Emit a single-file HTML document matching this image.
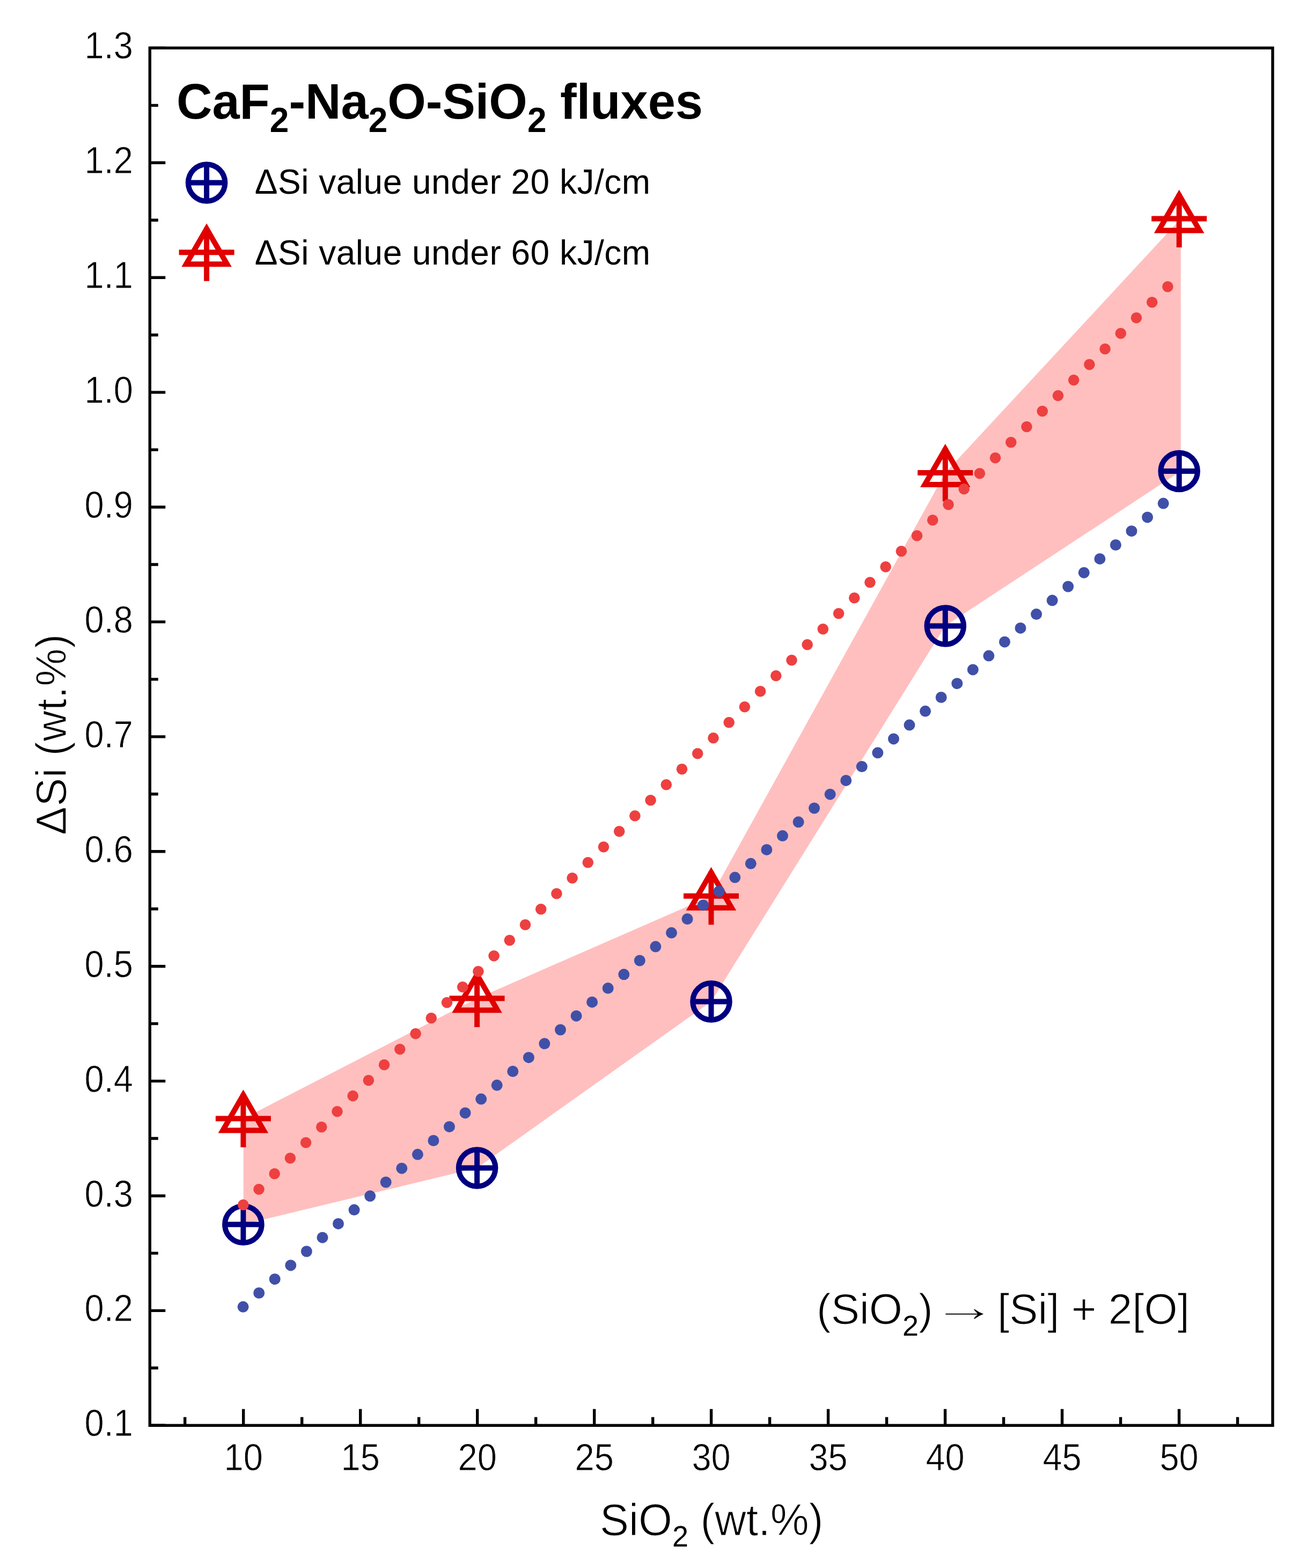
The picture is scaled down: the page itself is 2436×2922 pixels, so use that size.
<!DOCTYPE html>
<html><head><meta charset="utf-8"><title>CaF2-Na2O-SiO2 fluxes</title>
<style>html,body{margin:0;padding:0;background:#fff;width:2436px;height:2922px;overflow:hidden;}svg{display:block;}text{font-family:"Liberation Sans", Arial, sans-serif;fill:#000;}text.r{stroke:#fff;stroke-width:1.2px;}text.t{stroke:#fff;stroke-width:0.8px;}</style></head><body>
<svg width="2436" height="2922" viewBox="0 0 2436 2922">
<rect x="0" y="0" width="2436" height="2922" fill="#fff"/>
<polygon fill="#ffbfbf" points="453.7,2084.4 889.1,1860.5 1325.5,1669.8 1761.8,881.0 2200.8,407.6 2200.8,878.0 1761.8,1166.5 1325.5,1866.4 889.1,2176.5 453.7,2281.7"/>
<g stroke="#e00000" stroke-width="10" fill="none"><polygon stroke-linejoin="miter" stroke-miterlimit="10" points="453.4,2040.4 415.3,2106.4 491.5,2106.4"/><line x1="401.9" y1="2084.4" x2="504.9" y2="2084.4"/><line x1="453.4" y1="2038.4" x2="453.4" y2="2137.9"/></g>
<g stroke="#e00000" stroke-width="10" fill="none"><polygon stroke-linejoin="miter" stroke-miterlimit="10" points="889.1,1816.5 851.0,1882.5 927.2,1882.5"/><line x1="837.6" y1="1860.5" x2="940.6" y2="1860.5"/><line x1="889.1" y1="1814.5" x2="889.1" y2="1914.0"/></g>
<g stroke="#e00000" stroke-width="10" fill="none"><polygon stroke-linejoin="miter" stroke-miterlimit="10" points="1325.5,1625.8 1287.4,1691.8 1363.6,1691.8"/><line x1="1274.0" y1="1669.8" x2="1377.0" y2="1669.8"/><line x1="1325.5" y1="1623.8" x2="1325.5" y2="1723.3"/></g>
<g stroke="#e00000" stroke-width="10" fill="none"><polygon stroke-linejoin="miter" stroke-miterlimit="10" points="1761.8,837.0 1723.7,903.0 1799.9,903.0"/><line x1="1710.3" y1="881.0" x2="1813.3" y2="881.0"/><line x1="1761.8" y1="835.0" x2="1761.8" y2="934.5"/></g>
<g stroke="#e00000" stroke-width="10" fill="none"><polygon stroke-linejoin="miter" stroke-miterlimit="10" points="2197.7,363.6 2159.6,429.6 2235.8,429.6"/><line x1="2146.2" y1="407.6" x2="2249.2" y2="407.6"/><line x1="2197.7" y1="361.6" x2="2197.7" y2="461.1"/></g>
<g stroke="#000080" stroke-width="10" fill="none"><circle cx="453.4" cy="2281.7" r="34.3"/><line x1="419.1" y1="2281.7" x2="487.7" y2="2281.7"/><line x1="453.4" y1="2247.4" x2="453.4" y2="2316.0"/></g>
<g stroke="#000080" stroke-width="10" fill="none"><circle cx="889.1" cy="2176.5" r="34.3"/><line x1="854.8" y1="2176.5" x2="923.4" y2="2176.5"/><line x1="889.1" y1="2142.2" x2="889.1" y2="2210.8"/></g>
<g stroke="#000080" stroke-width="10" fill="none"><circle cx="1325.5" cy="1866.4" r="34.3"/><line x1="1291.2" y1="1866.4" x2="1359.8" y2="1866.4"/><line x1="1325.5" y1="1832.1" x2="1325.5" y2="1900.7"/></g>
<g stroke="#000080" stroke-width="10" fill="none"><circle cx="1761.8" cy="1166.5" r="34.3"/><line x1="1727.5" y1="1166.5" x2="1796.1" y2="1166.5"/><line x1="1761.8" y1="1132.2" x2="1761.8" y2="1200.8"/></g>
<g stroke="#000080" stroke-width="10" fill="none"><circle cx="2197.7" cy="878.0" r="34.3"/><line x1="2163.4" y1="878.0" x2="2232.0" y2="878.0"/><line x1="2197.7" y1="843.7" x2="2197.7" y2="912.3"/></g>
<g fill="#ee4040"><circle cx="453.3" cy="2245.3" r="10.3"/><circle cx="482.5" cy="2216.3" r="10.3"/><circle cx="511.7" cy="2187.3" r="10.3"/><circle cx="540.9" cy="2158.3" r="10.3"/><circle cx="570.1" cy="2129.3" r="10.3"/><circle cx="599.3" cy="2100.3" r="10.3"/><circle cx="628.5" cy="2071.3" r="10.3"/><circle cx="657.7" cy="2042.3" r="10.3"/><circle cx="686.9" cy="2013.3" r="10.3"/><circle cx="716.1" cy="1984.3" r="10.3"/><circle cx="745.3" cy="1955.3" r="10.3"/><circle cx="774.6" cy="1926.3" r="10.3"/><circle cx="803.8" cy="1897.3" r="10.3"/><circle cx="833.0" cy="1868.3" r="10.3"/><circle cx="862.2" cy="1839.3" r="10.3"/><circle cx="891.4" cy="1810.3" r="10.3"/><circle cx="920.6" cy="1781.3" r="10.3"/><circle cx="949.8" cy="1752.3" r="10.3"/><circle cx="979.0" cy="1723.3" r="10.3"/><circle cx="1008.2" cy="1694.3" r="10.3"/><circle cx="1037.4" cy="1665.3" r="10.3"/><circle cx="1066.6" cy="1636.3" r="10.3"/><circle cx="1095.8" cy="1607.3" r="10.3"/><circle cx="1125.0" cy="1578.3" r="10.3"/><circle cx="1154.2" cy="1549.3" r="10.3"/><circle cx="1183.4" cy="1520.3" r="10.3"/><circle cx="1212.6" cy="1491.3" r="10.3"/><circle cx="1241.8" cy="1462.3" r="10.3"/><circle cx="1271.0" cy="1433.3" r="10.3"/><circle cx="1300.2" cy="1404.3" r="10.3"/><circle cx="1329.5" cy="1375.3" r="10.3"/><circle cx="1358.7" cy="1346.3" r="10.3"/><circle cx="1387.9" cy="1317.2" r="10.3"/><circle cx="1417.1" cy="1288.2" r="10.3"/><circle cx="1446.3" cy="1259.2" r="10.3"/><circle cx="1475.5" cy="1230.2" r="10.3"/><circle cx="1504.7" cy="1201.2" r="10.3"/><circle cx="1533.9" cy="1172.2" r="10.3"/><circle cx="1563.1" cy="1143.2" r="10.3"/><circle cx="1592.3" cy="1114.2" r="10.3"/><circle cx="1621.5" cy="1085.2" r="10.3"/><circle cx="1650.7" cy="1056.2" r="10.3"/><circle cx="1679.9" cy="1027.2" r="10.3"/><circle cx="1709.1" cy="998.2" r="10.3"/><circle cx="1738.3" cy="969.2" r="10.3"/><circle cx="1767.5" cy="940.2" r="10.3"/><circle cx="1796.7" cy="911.2" r="10.3"/><circle cx="1825.9" cy="882.2" r="10.3"/><circle cx="1855.1" cy="853.2" r="10.3"/><circle cx="1884.3" cy="824.2" r="10.3"/><circle cx="1913.5" cy="795.2" r="10.3"/><circle cx="1942.8" cy="766.2" r="10.3"/><circle cx="1972.0" cy="737.2" r="10.3"/><circle cx="2001.2" cy="708.2" r="10.3"/><circle cx="2030.4" cy="679.2" r="10.3"/><circle cx="2059.6" cy="650.2" r="10.3"/><circle cx="2088.8" cy="621.2" r="10.3"/><circle cx="2118.0" cy="592.2" r="10.3"/><circle cx="2147.2" cy="563.2" r="10.3"/><circle cx="2176.4" cy="534.2" r="10.3"/></g>
<g fill="#4050a8"><circle cx="453.1" cy="2435.3" r="10.5"/><circle cx="482.7" cy="2409.5" r="10.5"/><circle cx="512.2" cy="2383.7" r="10.5"/><circle cx="541.8" cy="2357.9" r="10.5"/><circle cx="571.4" cy="2332.0" r="10.5"/><circle cx="601.0" cy="2306.2" r="10.5"/><circle cx="630.5" cy="2280.4" r="10.5"/><circle cx="660.1" cy="2254.6" r="10.5"/><circle cx="689.7" cy="2228.8" r="10.5"/><circle cx="719.2" cy="2203.0" r="10.5"/><circle cx="748.8" cy="2177.2" r="10.5"/><circle cx="778.4" cy="2151.3" r="10.5"/><circle cx="807.9" cy="2125.5" r="10.5"/><circle cx="837.5" cy="2099.7" r="10.5"/><circle cx="867.1" cy="2073.9" r="10.5"/><circle cx="896.7" cy="2048.1" r="10.5"/><circle cx="926.2" cy="2022.3" r="10.5"/><circle cx="955.8" cy="1996.5" r="10.5"/><circle cx="985.4" cy="1970.7" r="10.5"/><circle cx="1014.9" cy="1944.8" r="10.5"/><circle cx="1044.5" cy="1919.0" r="10.5"/><circle cx="1074.1" cy="1893.2" r="10.5"/><circle cx="1103.6" cy="1867.4" r="10.5"/><circle cx="1133.2" cy="1841.6" r="10.5"/><circle cx="1162.8" cy="1815.8" r="10.5"/><circle cx="1192.3" cy="1790.0" r="10.5"/><circle cx="1221.9" cy="1764.1" r="10.5"/><circle cx="1251.5" cy="1738.3" r="10.5"/><circle cx="1281.1" cy="1712.5" r="10.5"/><circle cx="1310.6" cy="1686.7" r="10.5"/><circle cx="1340.2" cy="1660.9" r="10.5"/><circle cx="1369.8" cy="1635.1" r="10.5"/><circle cx="1399.3" cy="1609.3" r="10.5"/><circle cx="1428.9" cy="1583.4" r="10.5"/><circle cx="1458.5" cy="1557.6" r="10.5"/><circle cx="1488.1" cy="1531.8" r="10.5"/><circle cx="1517.6" cy="1506.0" r="10.5"/><circle cx="1547.2" cy="1480.2" r="10.5"/><circle cx="1576.8" cy="1454.4" r="10.5"/><circle cx="1606.3" cy="1428.6" r="10.5"/><circle cx="1635.9" cy="1402.8" r="10.5"/><circle cx="1665.5" cy="1376.9" r="10.5"/><circle cx="1695.0" cy="1351.1" r="10.5"/><circle cx="1724.6" cy="1325.3" r="10.5"/><circle cx="1754.2" cy="1299.5" r="10.5"/><circle cx="1783.8" cy="1273.7" r="10.5"/><circle cx="1813.3" cy="1247.9" r="10.5"/><circle cx="1842.9" cy="1222.1" r="10.5"/><circle cx="1872.5" cy="1196.2" r="10.5"/><circle cx="1902.0" cy="1170.4" r="10.5"/><circle cx="1931.6" cy="1144.6" r="10.5"/><circle cx="1961.2" cy="1118.8" r="10.5"/><circle cx="1990.7" cy="1093.0" r="10.5"/><circle cx="2020.3" cy="1067.2" r="10.5"/><circle cx="2049.9" cy="1041.4" r="10.5"/><circle cx="2079.4" cy="1015.5" r="10.5"/><circle cx="2109.0" cy="989.7" r="10.5"/><circle cx="2138.6" cy="963.9" r="10.5"/><circle cx="2168.2" cy="938.1" r="10.5"/></g>
<rect x="279.3" y="89.4" width="2092.7" height="2566.9" fill="none" stroke="#000" stroke-width="5.4"/>
<path d="M279.3,2656.3H308.3M279.3,2442.4H308.3M279.3,2228.5H308.3M279.3,2014.6H308.3M279.3,1800.7H308.3M279.3,1586.8H308.3M279.3,1372.9H308.3M279.3,1158.9H308.3M279.3,945.0H308.3M279.3,731.1H308.3M279.3,517.2H308.3M279.3,303.3H308.3M279.3,89.4H308.3M279.3,2549.3H294.8M279.3,2335.4H294.8M279.3,2121.5H294.8M279.3,1907.6H294.8M279.3,1693.7H294.8M279.3,1479.8H294.8M279.3,1265.9H294.8M279.3,1052.0H294.8M279.3,838.1H294.8M279.3,624.2H294.8M279.3,410.3H294.8M279.3,196.4H294.8M453.7,2656.3V2625.8M671.7,2656.3V2625.8M889.7,2656.3V2625.8M1107.7,2656.3V2625.8M1325.6,2656.3V2625.8M1543.6,2656.3V2625.8M1761.6,2656.3V2625.8M1979.6,2656.3V2625.8M2197.6,2656.3V2625.8M344.7,2656.3V2640.8M562.7,2656.3V2640.8M780.7,2656.3V2640.8M998.7,2656.3V2640.8M1216.7,2656.3V2640.8M1434.6,2656.3V2640.8M1652.6,2656.3V2640.8M1870.6,2656.3V2640.8M2088.6,2656.3V2640.8M2306.6,2656.3V2640.8" stroke="#000" stroke-width="5.4" fill="none"/>
<text class="t" transform="translate(248,2676.3) scale(0.93,1)" font-size="70" text-anchor="end">0.1</text>
<text class="t" transform="translate(248,2462.4) scale(0.93,1)" font-size="70" text-anchor="end">0.2</text>
<text class="t" transform="translate(248,2248.5) scale(0.93,1)" font-size="70" text-anchor="end">0.3</text>
<text class="t" transform="translate(248,2034.6) scale(0.93,1)" font-size="70" text-anchor="end">0.4</text>
<text class="t" transform="translate(248,1820.7) scale(0.93,1)" font-size="70" text-anchor="end">0.5</text>
<text class="t" transform="translate(248,1606.8) scale(0.93,1)" font-size="70" text-anchor="end">0.6</text>
<text class="t" transform="translate(248,1392.9) scale(0.93,1)" font-size="70" text-anchor="end">0.7</text>
<text class="t" transform="translate(248,1178.9) scale(0.93,1)" font-size="70" text-anchor="end">0.8</text>
<text class="t" transform="translate(248,965.0) scale(0.93,1)" font-size="70" text-anchor="end">0.9</text>
<text class="t" transform="translate(248,751.1) scale(0.93,1)" font-size="70" text-anchor="end">1.0</text>
<text class="t" transform="translate(248,537.2) scale(0.93,1)" font-size="70" text-anchor="end">1.1</text>
<text class="t" transform="translate(248,323.3) scale(0.93,1)" font-size="70" text-anchor="end">1.2</text>
<text class="t" transform="translate(248,109.4) scale(0.93,1)" font-size="70" text-anchor="end">1.3</text>
<text class="t" transform="translate(453.7,2740) scale(0.93,1)" font-size="70" text-anchor="middle">10</text>
<text class="t" transform="translate(671.7,2740) scale(0.93,1)" font-size="70" text-anchor="middle">15</text>
<text class="t" transform="translate(889.7,2740) scale(0.93,1)" font-size="70" text-anchor="middle">20</text>
<text class="t" transform="translate(1107.7,2740) scale(0.93,1)" font-size="70" text-anchor="middle">25</text>
<text class="t" transform="translate(1325.6,2740) scale(0.93,1)" font-size="70" text-anchor="middle">30</text>
<text class="t" transform="translate(1543.6,2740) scale(0.93,1)" font-size="70" text-anchor="middle">35</text>
<text class="t" transform="translate(1761.6,2740) scale(0.93,1)" font-size="70" text-anchor="middle">40</text>
<text class="t" transform="translate(1979.6,2740) scale(0.93,1)" font-size="70" text-anchor="middle">45</text>
<text class="t" transform="translate(2197.6,2740) scale(0.93,1)" font-size="70" text-anchor="middle">50</text>
<text class="r" transform="translate(1326.3,2861) scale(0.963,1)" font-size="84" text-anchor="middle">SiO<tspan font-size="56" dy="20.5" stroke="none">2</tspan><tspan dy="-20.5"> (wt.%)</tspan></text>
<text class="r" transform="translate(122.5,1368.5) rotate(-90)" x="0" y="0" font-size="79" letter-spacing="0.6" text-anchor="middle">ΔSi (wt.%)</text>
<text x="329" y="220.5" font-size="92" font-weight="bold">CaF<tspan font-size="64" dy="25.7">2</tspan><tspan dy="-25.7">-Na</tspan><tspan font-size="64" dy="25.7">2</tspan><tspan dy="-25.7">O-SiO</tspan><tspan font-size="64" dy="25.7">2</tspan><tspan dy="-25.7"> fluxes</tspan></text>
<g stroke="#000080" stroke-width="10" fill="none"><circle cx="385.1" cy="340.5" r="34.3"/><line x1="350.8" y1="340.5" x2="419.4" y2="340.5"/><line x1="385.1" y1="306.2" x2="385.1" y2="374.8"/></g>
<g stroke="#e00000" stroke-width="10" fill="none"><polygon stroke-linejoin="miter" stroke-miterlimit="10" points="385.1,426.3 347.0,492.3 423.2,492.3"/><line x1="333.6" y1="470.3" x2="436.6" y2="470.3"/><line x1="385.1" y1="424.3" x2="385.1" y2="523.8"/></g>
<text x="474.8" y="361.3" font-size="64" letter-spacing="0.5">ΔSi value under 20 kJ/cm</text>
<text x="474.8" y="493.2" font-size="64" letter-spacing="0.5">ΔSi value under 60 kJ/cm</text>
<text class="r" x="1522" y="2467" font-size="80">(SiO<tspan font-size="54" dy="22" stroke="none">2</tspan><tspan dy="-22">)</tspan></text>
<text class="r" transform="translate(1737,2462) scale(1.52,1)" font-size="80">→</text>
<text class="r" x="1859" y="2467" font-size="80">[Si] + 2[O]</text>
</svg></body></html>
